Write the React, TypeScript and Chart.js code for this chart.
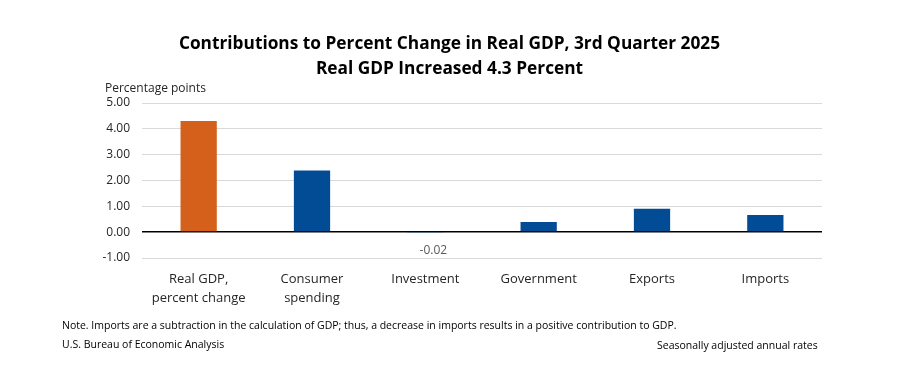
import React, { useEffect, useRef } from "react";
import { Chart, registerables } from "chart.js";

Chart.register(...registerables);

const categoryLabels: (string | string[])[] = [
  ["Real GDP,", "percent change"],
  ["Consumer", "spending"],
  "Investment",
  "Government",
  "Exports",
  "Imports",
];
const contributions: number[] = [4.3, 2.39, -0.02, 0.39, 0.91, 0.66];
const barColors: string[] = ["#D5601C", "#024B95", "#024B95", "#024B95", "#024B95", "#024B95"];
const yMin = -1;
const yMax = 5;
const yStep = 1;

const titleLines = [
  "Contributions to Percent Change in Real GDP, 3rd Quarter 2025",
  "Real GDP Increased 4.3 Percent",
];
const yAxisTitle = "Percentage points";
const noteText =
  "Note. Imports are a subtraction in the calculation of GDP; thus, a decrease in imports results in a positive contribution to GDP.";
const sourceText = "U.S. Bureau of Economic Analysis";
const ratesText = "Seasonally adjusted annual rates";

const FONT = "'Open Sans', 'Noto Sans', sans-serif";

const smallLabelPlugin = {
  id: "smallLabels",
  afterDatasetsDraw(chart: any) {
    const ctx = chart.ctx;
    const meta = chart.getDatasetMeta(0);
    const data = chart.data.datasets[0].data as number[];
    ctx.save();
    ctx.font = `12px ${FONT}`;
    ctx.fillStyle = "#595959";
    ctx.textAlign = "center";
    ctx.textBaseline = "top";
    meta.data.forEach((el: any, i: number) => {
      const v = data[i];
      if (Math.abs(v) < 0.1) {
        ctx.fillText(v.toFixed(2), el.x + 8, el.y + 12);
      }
    });
    ctx.restore();
  },
};

export default function App() {
  const ref = useRef<HTMLCanvasElement>(null);
  useEffect(() => {
    document.body.style.margin = "0";
    const chart = new Chart(ref.current!, {
      type: "bar",
      data: {
        labels: categoryLabels,
        datasets: [
          {
            data: contributions,
            backgroundColor: barColors,
            borderWidth: 0,
            barPercentage: 0.32,
            categoryPercentage: 1,
          },
        ],
      },
      plugins: [smallLabelPlugin],
      options: {
        responsive: false,
        animation: false,
        layout: { padding: { top: 103, right: 77, bottom: 0, left: 0 } },
        plugins: { legend: { display: false }, tooltip: { enabled: false }, title: { display: false } },
        scales: {
          x: {
            grid: { display: false },
            border: { display: false },
            ticks: {
              color: "#262626",
              font: { family: FONT, size: 13, lineHeight: 1.45 },
              padding: 4,
              maxRotation: 0,
              autoSkip: false,
            },
            afterFit: (s: any) => {
              s.height = 124;
            },
          },
          y: {
            min: yMin,
            max: yMax,
            grid: {
              color: (c: any) => (c.tick && c.tick.value === 0 ? "#000000" : "#D9D9D9"),
              lineWidth: (c: any) => (c.tick && c.tick.value === 0 ? 1.6 : 1),
              drawTicks: false,
            },
            border: { display: false },
            ticks: {
              stepSize: yStep,
              color: "#262626",
              font: { family: FONT, size: 12 },
              padding: 12,
              callback: (v: any) => Number(v).toFixed(2),
            },
            afterFit: (s: any) => {
              s.width = 142;
            },
          },
        },
      },
    });
    return () => chart.destroy();
  }, []);

  const abs = (style: React.CSSProperties): React.CSSProperties => ({
    position: "absolute",
    fontFamily: FONT,
    color: "#000",
    whiteSpace: "nowrap",
    ...style,
  });

  return (
    <div style={{ position: "relative", width: 899, height: 382, background: "#fff", overflow: "hidden" }}>
      <canvas ref={ref} width={899} height={382} style={{ position: "absolute", left: 0, top: 0 }} />
      <div style={abs({ left: 0, width: 899, top: 30, textAlign: "center", fontWeight: 700, fontSize: 17.3, lineHeight: "25px" })}>
        <div>{titleLines[0]}</div>
        <div>{titleLines[1]}</div>
      </div>
      <div style={abs({ left: 105, top: 79, fontSize: 12, color: "#262626" })}>{yAxisTitle}</div>
      <div style={abs({ left: 62, top: 318, fontSize: 10.5 })}>{noteText}</div>
      <div style={abs({ left: 62, top: 337, fontSize: 10.5 })}>{sourceText}</div>
      <div style={abs({ left: 657, top: 338, fontSize: 10.5 })}>{ratesText}</div>
    </div>
  );
}
